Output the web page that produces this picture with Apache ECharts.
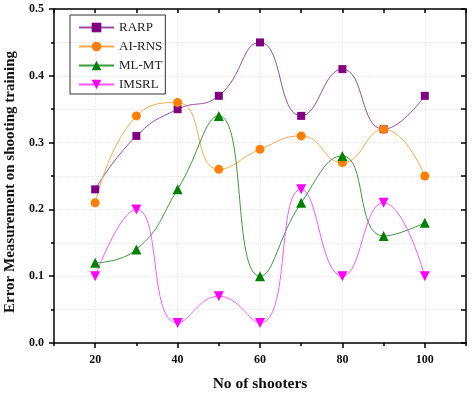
<!DOCTYPE html>
<html><head><meta charset="utf-8">
<script src="https://cdn.jsdelivr.net/npm/echarts@6/dist/echarts.min.js"></script>
<style>html,body{margin:0;padding:0;background:#fff}#c{width:474px;height:395px}</style>
</head><body><div id="c"></div>
<script>
const shooters = [20, 30, 40, 50, 60, 70, 80, 90, 100];
const rarp  = [0.23, 0.31, 0.35, 0.37, 0.45, 0.34, 0.41, 0.32, 0.37];
const aiRns = [0.21, 0.34, 0.36, 0.26, 0.29, 0.31, 0.27, 0.32, 0.25];
const mlMt  = [0.12, 0.14, 0.23, 0.34, 0.10, 0.21, 0.28, 0.16, 0.18];
const imsrl = [0.10, 0.20, 0.03, 0.07, 0.03, 0.23, 0.10, 0.21, 0.10];
const xMajorTicks = [20, 40, 60, 80, 100];
const xMinorTicks = [10, 30, 50, 70, 90, 110];

const font = '"Liberation Serif","Times New Roman",serif';
const chart = echarts.init(document.getElementById('c'));
const pair = (ys) => shooters.map((x, i) => [x, ys[i]]);
function mk(name, ys, color, lineColor, symbol, size, rot) {
  return {
    name, type: 'line', data: pair(ys), smooth: 0.5,
    symbol, symbolSize: size, symbolRotate: rot || 0,
    itemStyle: { color },
    lineStyle: { color: lineColor, width: 1 },
    z: 3
  };
}
const axisLine = { show: true, lineStyle: { color: '#000', width: 1.5 } };
chart.setOption({
  animation: false,
  grid: { left: 54, right: 8, top: 9, bottom: 52, containLabel: false, outerBoundsMode: 'none' },
  legend: {
    left: 70, top: 15, orient: 'vertical',
    borderColor: '#333', borderWidth: 1, padding: [6, 3, 3, 8],
    itemWidth: 35, itemHeight: 12, itemGap: 6,
    textStyle: { fontFamily: font, fontSize: 13, color: '#222' },
    data: ['RARP', 'AI-RNS', 'ML-MT', 'IMSRL']
  },
  xAxis: [
    {
      type: 'value', min: 10, max: 110, interval: 10, position: 'bottom',
      name: 'No of shooters', nameLocation: 'middle', nameGap: 33,
      nameTextStyle: { fontFamily: font, fontSize: 15.5, fontWeight: 'bold', color: '#111' },
      axisLine,
      axisTick: { show: true, inside: false, length: 5, customValues: xMajorTicks, lineStyle: { color: '#000', width: 1.5 } },
      axisLabel: { customValues: xMajorTicks, fontFamily: font, fontSize: 12, fontWeight: 'bold', color: '#111', margin: 11 },
      splitLine: { show: true, lineStyle: { color: '#e6e6e6', type: 'dotted', width: 1 } }
    },
    {
      type: 'value', min: 10, max: 110, interval: 10, position: 'bottom',
      axisLine: { show: false },
      axisTick: { show: true, inside: false, length: 3, customValues: xMinorTicks, lineStyle: { color: '#000', width: 1.5 } },
      axisLabel: { show: false }, splitLine: { show: false }
    },
    {
      type: 'value', min: 10, max: 110, interval: 10, position: 'top',
      axisLine,
      axisTick: { show: true, inside: true, length: 4, lineStyle: { color: '#000', width: 1.5 } },
      axisLabel: { show: false }, splitLine: { show: false }
    }
  ],
  yAxis: [
    {
      type: 'value', min: 0, max: 0.5, interval: 0.1, position: 'left',
      name: 'Error Measurement on shooting training', nameLocation: 'middle', nameGap: 35,
      nameTextStyle: { fontFamily: font, fontSize: 15, fontWeight: 'bold', color: '#111', padding: [0, 12, 0, 0] },
      axisLine,
      axisTick: { show: true, inside: false, length: 5, lineStyle: { color: '#000', width: 1.5 } },
      minorTick: { show: true, splitNumber: 2, length: 3, lineStyle: { color: '#000', width: 1.5 } },
      axisLabel: { fontFamily: font, fontSize: 12, fontWeight: 'bold', color: '#111', margin: 10, formatter: v => v.toFixed(1) },
      splitLine: { show: true, lineStyle: { color: '#e6e6e6', type: 'dotted', width: 1 } },
      minorSplitLine: { show: true, lineStyle: { color: '#e6e6e6', type: 'dotted', width: 1 } }
    },
    {
      type: 'value', min: 0, max: 0.5, interval: 0.05, position: 'right',
      axisLine,
      axisTick: { show: true, inside: true, length: 5, lineStyle: { color: '#000', width: 1.5 } },
      axisLabel: { show: false }, splitLine: { show: false }
    }
  ],
  series: [
    mk('RARP', rarp, '#800080', '#9a4aa0', 'rect', 8),
    mk('AI-RNS', aiRns, '#ff8000', '#f5a94a', 'circle', 9),
    mk('ML-MT', mlMt, '#008000', '#3a9a3a', 'triangle', 10),
    mk('IMSRL', imsrl, '#ff00ff', '#ff55ff', 'triangle', 10, 180)
  ]
});
</script></body></html>
